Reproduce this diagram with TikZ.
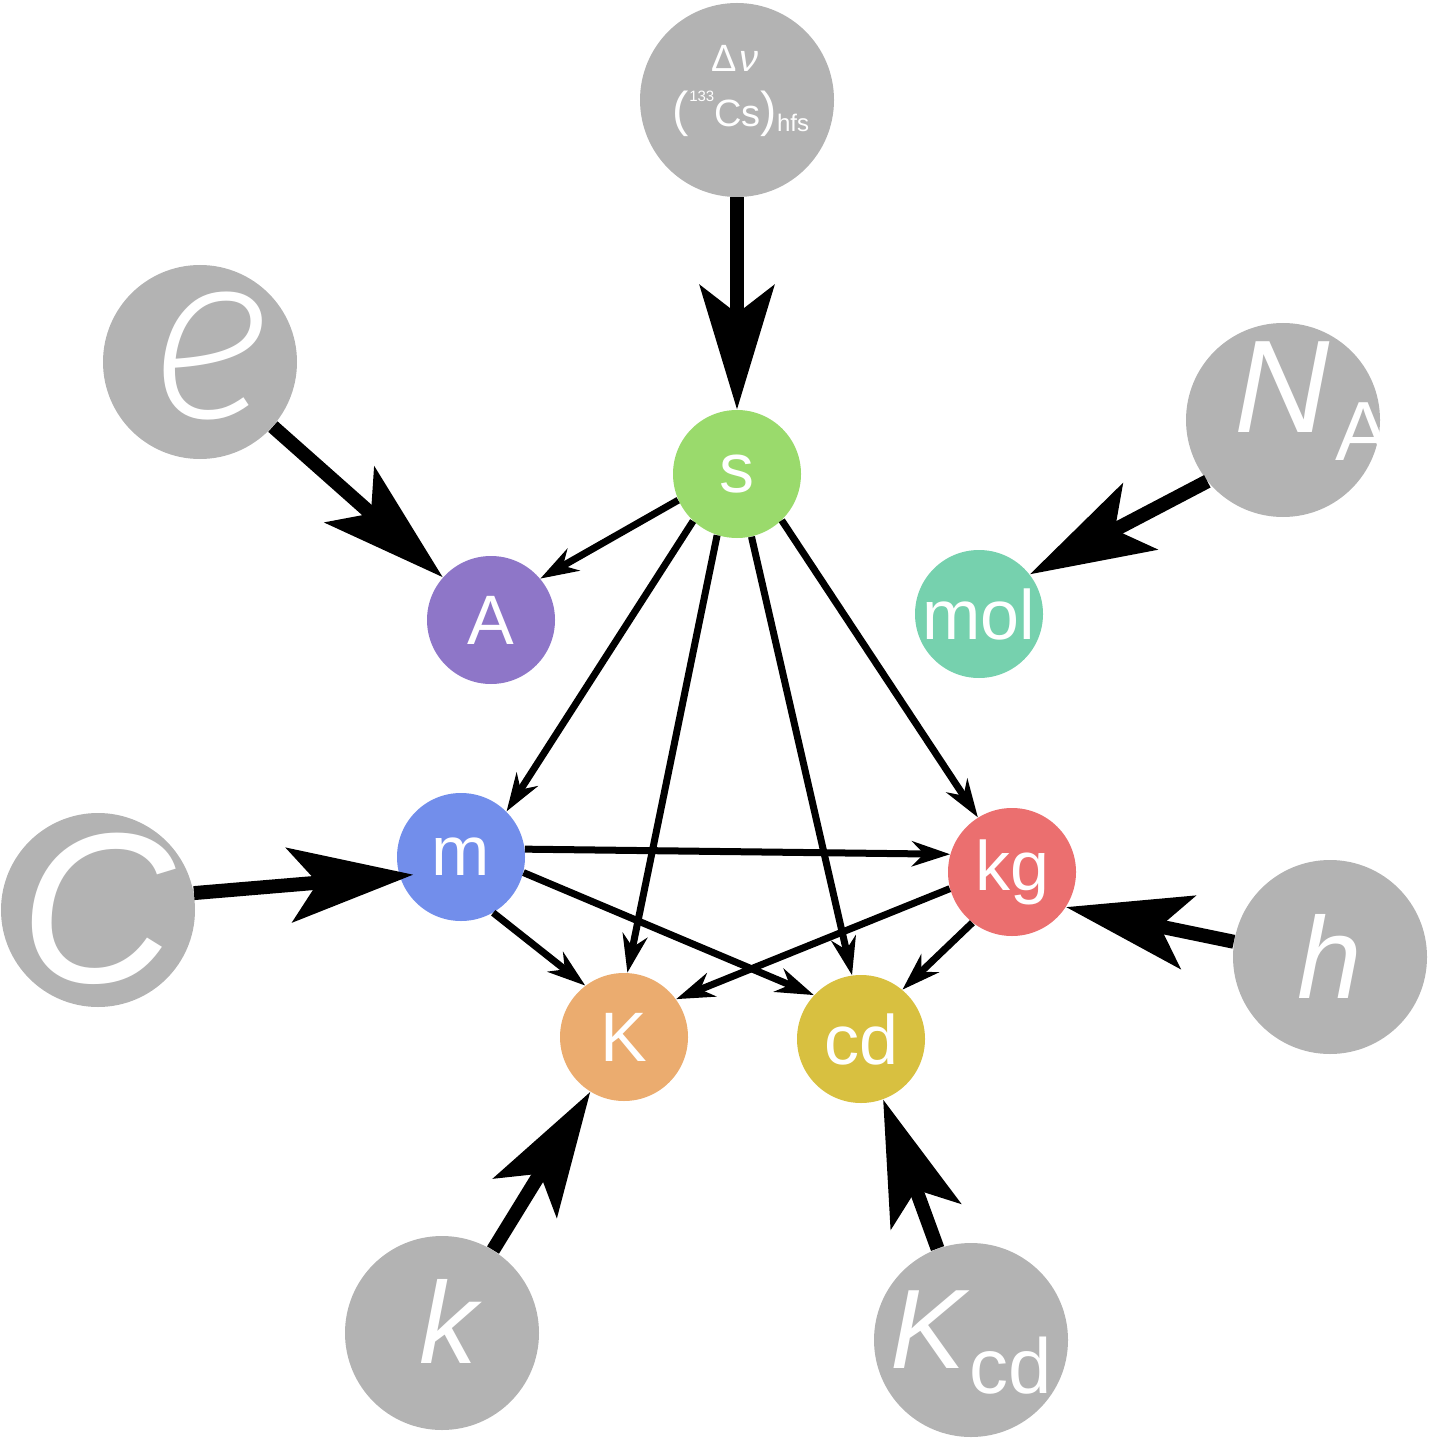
\documentclass[tikz,border=0pt]{standalone}
\usepackage{fontspec}
\setmainfont{Liberation Sans}
\newfontfamily\lightfont{Fira Sans}[UprightFont=* ExtraLight, ItalicFont=* ExtraLight Italic]
\usetikzlibrary{arrows.meta}
\definecolor{constgrey}{HTML}{B3B3B3}
\definecolor{sgreen}{HTML}{9ADA6C}
\definecolor{apurple}{HTML}{8E76C8}
\definecolor{molteal}{HTML}{76D1AE}
\definecolor{mblue}{HTML}{728EEB}
\definecolor{kgred}{HTML}{EB6F6F}
\definecolor{korange}{HTML}{EBAC6F}
\definecolor{cdyellow}{HTML}{D8C040}
\tikzset{
  const/.style={circle, fill=constgrey, minimum size=97pt, inner sep=0pt},
  unit/.style={circle, minimum size=64pt, inner sep=0pt, text=white, font=\fontsize{35}{35}\selectfont},
  sym/.style={text=white, inner sep=0pt, anchor=base},
  fixes/.style={line width=7pt, -{Stealth[length=62pt,width=37pt,inset=14pt]}},
  derives/.style={line width=3.5pt, -{Stealth[length=19pt,width=12.5pt,inset=6pt]}}
}

\begin{document}
\begin{tikzpicture}[x=0.5pt, y=-0.5pt]
\useasboundingbox (0,0) rectangle (1428,1438);
% defining constants
\node[const] (dnu) at (737,100)  {};
\node[const] (e)   at (200,362)  {};
\node[const] (NA)  at (1283,420) {};
\node[const] (c)   at (98,910)   {};
\node[const] (h)   at (1330,957) {};
\node[const] (kB)  at (442,1333) {};
\node[const] (Kcd) at (971,1340) {};
% their symbols
\node[sym, font=\fontsize{19}{19}\selectfont] (dnu top) at (735,72) {Δ\kern1pt{\itshape ν}};
\node[sym] (dnu bottom) at (741,127) {\fontsize{24.5}{24.5}\selectfont(\raisebox{12.5pt}{\fontsize{7.5}{8}\selectfont 133}\fontsize{19}{19}\selectfont Cs\fontsize{24.5}{24.5}\selectfont)\raisebox{-2.5pt}{\fontsize{12}{12}\selectfont hfs}};
\node[sym, font=\fontsize{118}{118}\lightfont\itshape] (e sym) at (210,417) {e};
\node[sym, anchor=base west] (NA sym) at (1234,433) {{\fontsize{66}{66}\selectfont\itshape N}\kern3pt\raisebox{-13.5pt}{\fontsize{42}{42}\selectfont A}};
\node[sym, font=\fontsize{107}{107}\selectfont\itshape] (c sym) at (98,982) {C};
\node[sym, font=\fontsize{58}{58}\selectfont\itshape] (h sym) at (1330,998) {h};
\node[sym, font=\fontsize{58}{58}\selectfont\itshape] (kB sym) at (448,1363) {k};
\node[sym, anchor=base west] (Kcd sym) at (890,1368) {{\fontsize{56.5}{56.5}\selectfont\itshape K}\kern2pt\raisebox{-12.5pt}{\fontsize{39}{39}\selectfont cd}};
% base units
\node[unit, fill=sgreen]   (s)   at (737,474)  {s};
\node[unit, fill=apurple]  (A)   at (491,620)  {A};
\node[unit, fill=molteal]  (mol) at (979,614)  {mol};
\node[unit, fill=mblue]    (m)   at (461,857)  {m};
\node[unit, fill=kgred]    (kg)  at (1012,872) {kg};
\node[unit, fill=korange]  (K)   at (624,1037) {K};
\node[unit, fill=cdyellow] (cd)  at (861,1039) {cd};

\draw[fixes] (dnu) -- (s);
\draw[fixes] (e) -- (A);
\draw[fixes] (NA.219) -- (mol.38);
\draw[fixes, shorten >=-7pt] (c.10) -- (m.197);
\draw[fixes] (h.171) -- (kg.-33);
\draw[fixes] (kB) -- (K);
\draw[fixes] (Kcd) -- (cd);

\draw[derives] (s.204) -- (A.40);
\draw[derives] (s.227) -- (m.45);
\draw[derives] (s.252) -- (K.87);
\draw[derives] (s.283) -- (cd.98);
\draw[derives] (s.314) -- (kg.122);
\draw[derives] (m.7) -- (kg.164);
\draw[derives] (m.300) -- (K.127);
\draw[derives] (m.346) -- (cd.137);
\draw[derives] (kg.195) -- (K.36);
\draw[derives] (kg.232) -- (cd.50);
\end{tikzpicture}
\end{document}
